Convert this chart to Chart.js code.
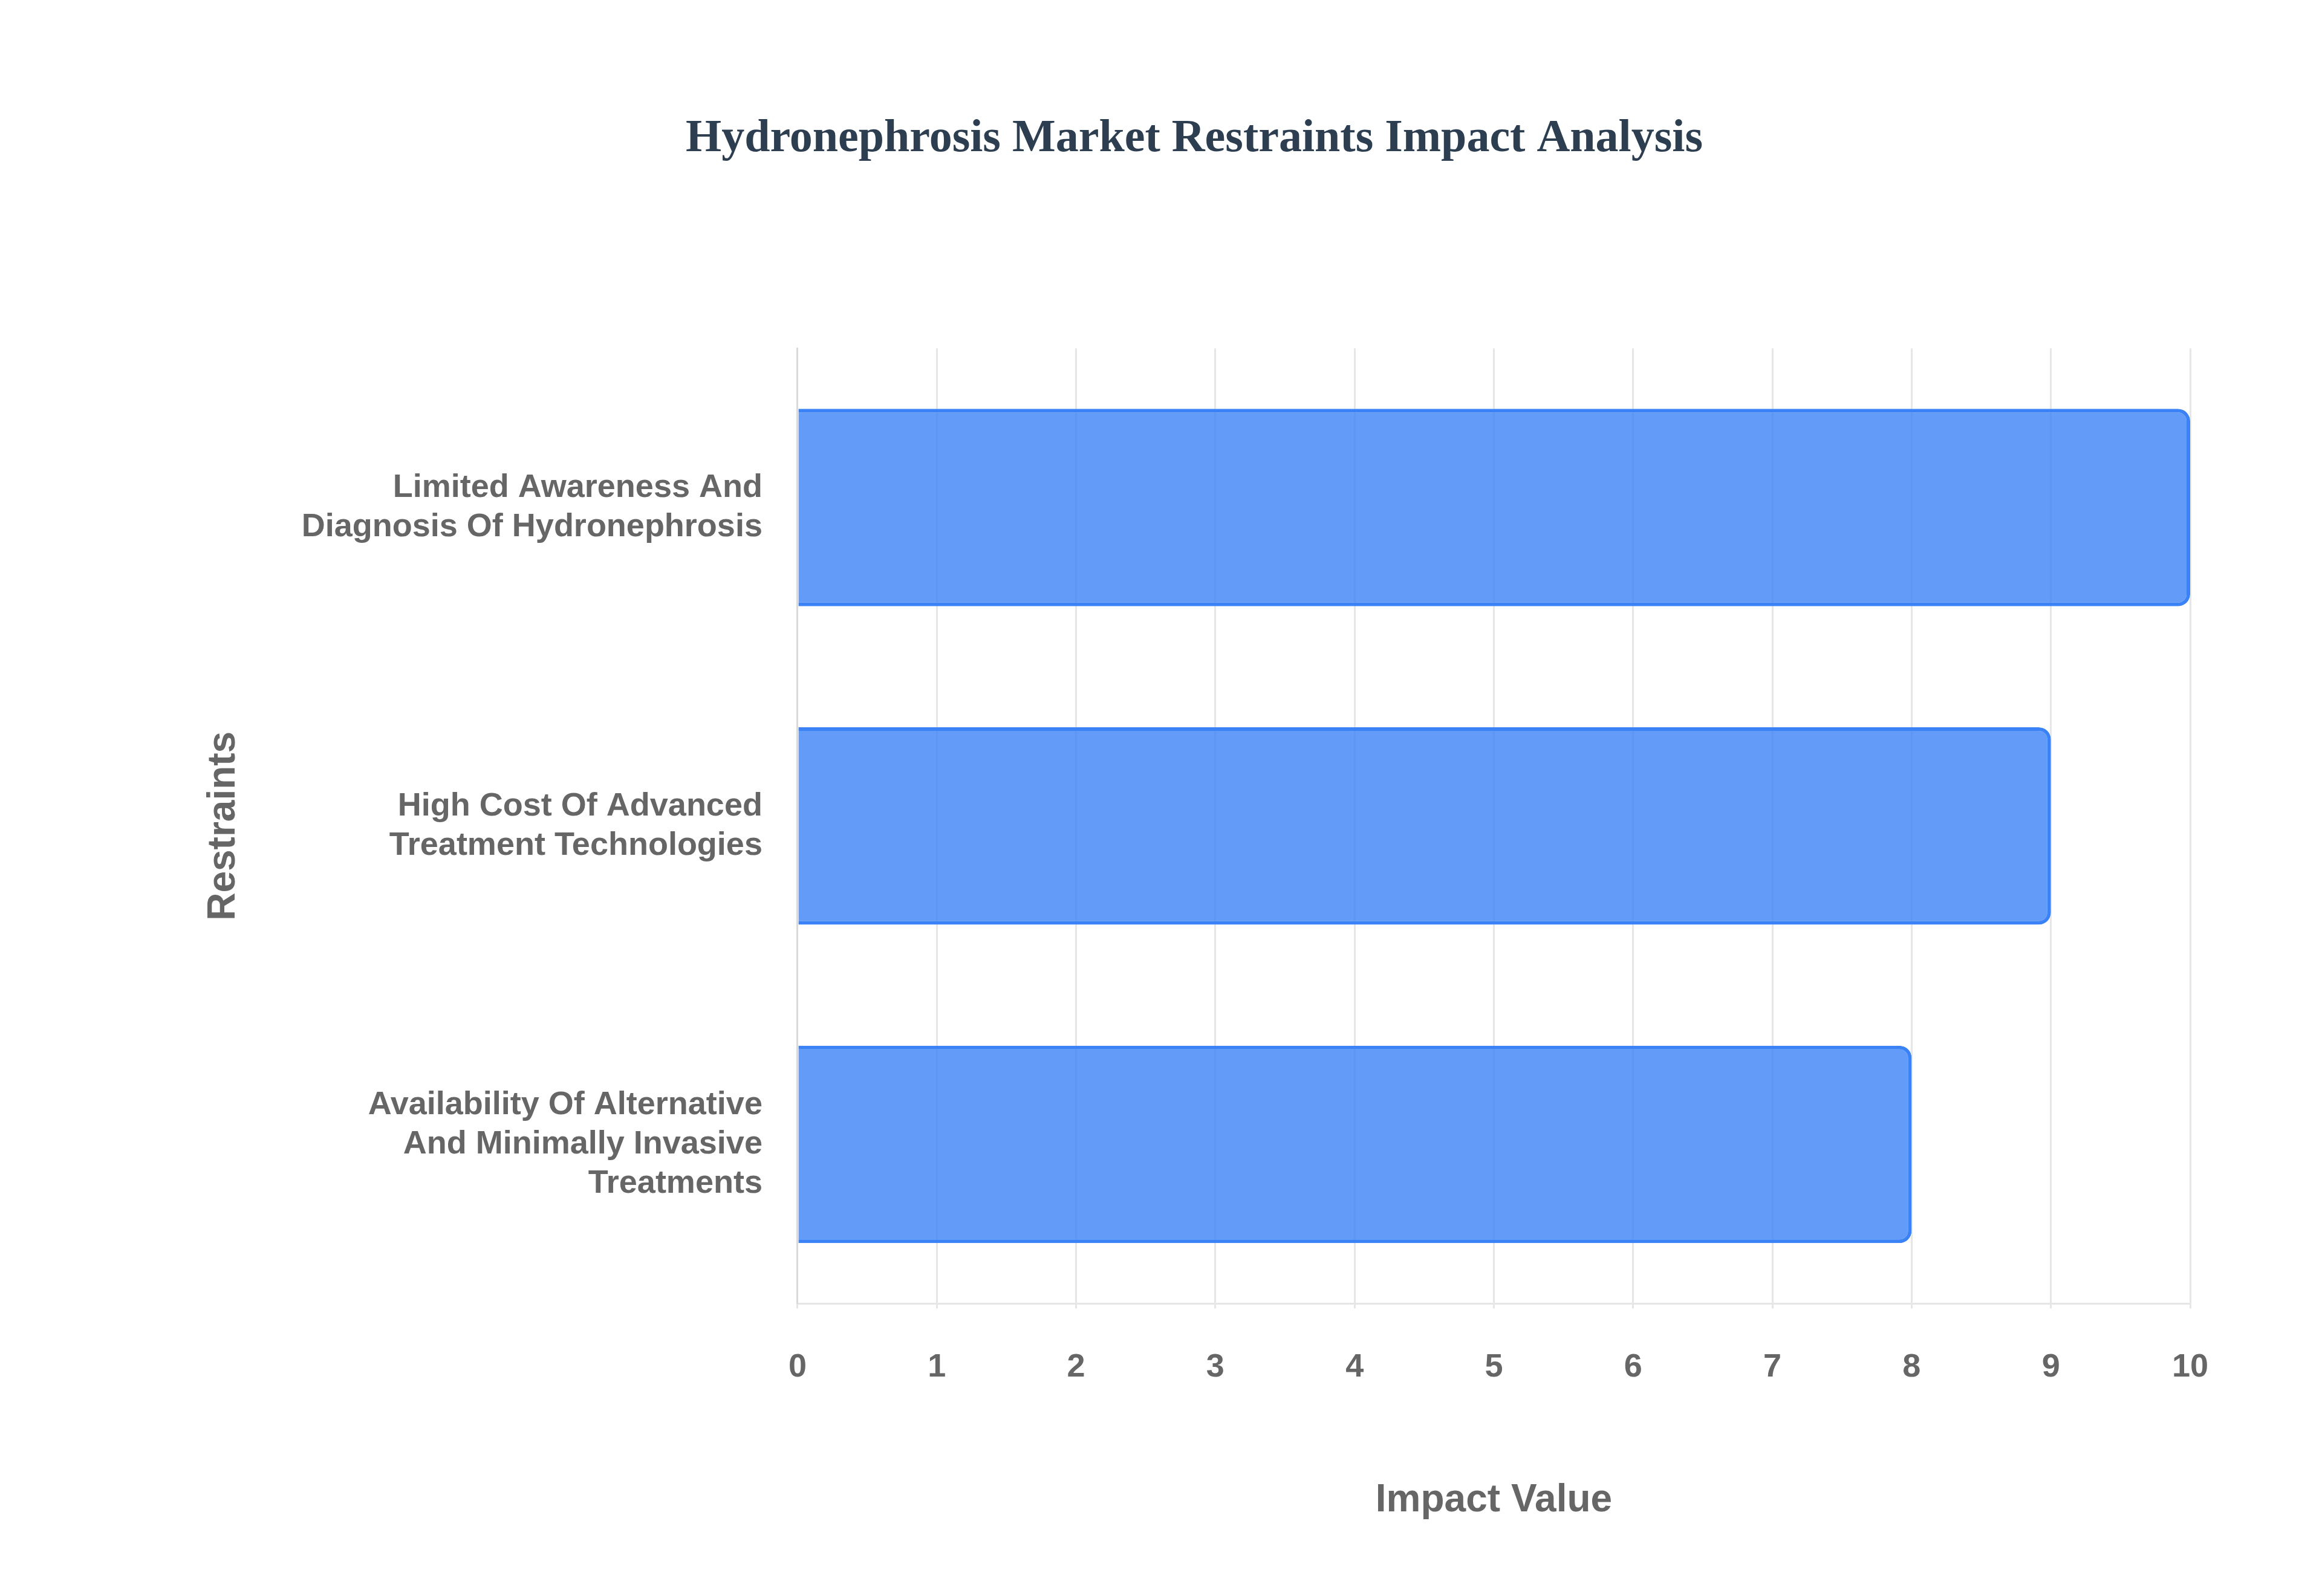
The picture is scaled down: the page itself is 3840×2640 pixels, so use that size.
<!DOCTYPE html>
<html>
<head>
<meta charset="utf-8">
<script src="https://cdn.jsdelivr.net/npm/chart.js@4"></script>
<style>
  html, body { margin: 0; padding: 0; background: #fff; }
  #wrap { width: 3840px; height: 2640px; }
</style>
</head>
<body>
<div id="wrap"><canvas id="chart" width="3840" height="2640"></canvas></div>
<script>
const categories = [
    ['Limited Awareness And', 'Diagnosis Of Hydronephrosis'],
    ['High Cost Of Advanced', 'Treatment Technologies'],
    ['Availability Of Alternative', 'And Minimally Invasive', 'Treatments']
];
const impactValues = [10, 9, 8];

const labelFont = { family: '"Liberation Sans", Arial, sans-serif', weight: 'bold', size: 54 };

new Chart(document.getElementById('chart').getContext('2d'), {
    type: 'bar',
    data: {
        labels: categories,
        datasets: [{
            label: 'Impact Value',
            data: impactValues,
            backgroundColor: 'rgba(59, 130, 246, 0.8)',
            borderColor: '#3b82f6',
            borderWidth: 6,
            borderRadius: 20,
            borderSkipped: 'start',
            categoryPercentage: 0.62,
            barPercentage: 1
        }]
    },
    options: {
        indexAxis: 'y',
        responsive: false,
        devicePixelRatio: 1,
        animation: false,
        layout: { padding: { left: 328, right: 218, top: 185, bottom: 115 } },
        plugins: {
            legend: { display: false },
            tooltip: { enabled: false },
            title: {
                display: true,
                text: 'Hydronephrosis Market Restraints Impact Analysis',
                color: '#2c3e50',
                font: { family: '"Liberation Serif", "Times New Roman", serif', weight: 'bold', size: 76 },
                padding: { top: 0, bottom: 300 }
            }
        },
        scales: {
            x: {
                min: 0,
                max: 10,
                ticks: { stepSize: 1, color: '#666', font: labelFont, padding: 65 },
                grid: { color: '#e6e6e6', lineWidth: 3 },
                border: { color: '#e6e6e6', width: 3 },
                title: {
                    display: true,
                    text: 'Impact Value',
                    color: '#666',
                    font: { ...labelFont, size: 64 },
                    padding: { top: 85 }
                }
            },
            y: {
                ticks: { color: '#666', font: labelFont, padding: 50 },
                grid: { display: false },
                border: { color: '#d9d9d9', width: 3 },
                title: {
                    display: true,
                    text: 'Restraints',
                    color: '#666',
                    font: { ...labelFont, size: 64 },
                    padding: { bottom: 40 }
                }
            }
        }
    }
});
</script>
</body>
</html>
